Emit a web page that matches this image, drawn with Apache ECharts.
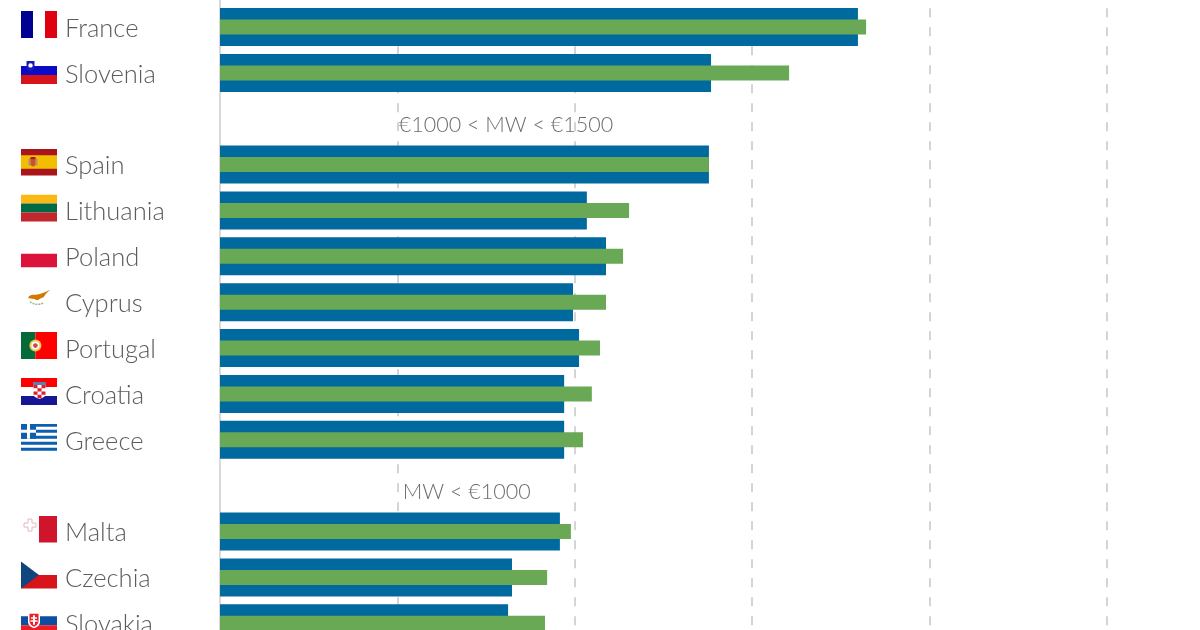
<!DOCTYPE html>
<html>
<head>
<meta charset="utf-8">
<style>html,body{margin:0;padding:0;background:#fff}#chart{width:1200px;height:630px}</style>
<script src="https://cdn.jsdelivr.net/npm/echarts@6/dist/echarts.min.js"></script>
</head>
<body>
<div id="chart"></div>
<script>
// Monthly minimum wage by country, grouped by wage band. Blank rows separate the bands.
const countries = ['', 'France', 'Slovenia', '', 'Spain', 'Lithuania', 'Poland', 'Cyprus', 'Portugal', 'Croatia', 'Greece', '', 'Malta', 'Czechia', 'Slovakia'];
const outerValues = [null, 1798, 1384, null, 1378, 1034, 1088, 995, 1012, 970, 970, null, 958, 823, 812];
const innerValues = [null, 1821, 1604, null, 1378, 1153, 1136, 1088, 1071, 1048, 1023, null, 989, 922, 916];
const bandNames = ['€1000 < MW < €1500', 'MW < €1000'];
const bandRows = [3, 11];
const bandStart = [504, 515];
const axisTicks = [0, 500, 1000, 1500, 2000, 2500];

// Flag artwork; each flag sits in the top-left of a slightly larger transparent canvas.
const flagArt = {
  France: '<rect width="12" height="27" fill="#000091"/><rect x="24" width="12" height="27" fill="#e1000f"/>',
  Slovenia: '<rect y="9" width="36" height="9" fill="#0a0ac8"/><rect y="18" width="36" height="9" fill="#d7141a"/><path d="M5.500 4h8v6c0 3-2 3.500-4 4.500-2-1-4-1.500-4-4.500z" fill="#1a1ab4"/><circle cx="9.500" cy="8.500" r="2.200" fill="#fff"/>',
  Spain: '<rect width="36" height="27" fill="#aa151b"/><rect y="6.750" width="36" height="13.500" fill="#f1bf00"/><rect x="7.500" y="10" width="2" height="7" fill="#b98a8a"/><rect x="14.500" y="10" width="2" height="7" fill="#b98a8a"/><path d="M9.500 11h5v4.500c0 1.500-1.300 2.500-2.500 2.500s-2.500-1-2.500-2.500z" fill="#c8522a"/><rect x="9.500" y="8.500" width="5" height="2.500" fill="#ad1519"/>',
  Lithuania: '<rect width="36" height="9" fill="#fdb913"/><rect y="9" width="36" height="9" fill="#006a44"/><rect y="18" width="36" height="9" fill="#c1272d"/>',
  Poland: '<rect y="13.500" width="36" height="13.500" fill="#dc143c"/>',
  Cyprus: '<path d="M7 11.500c1-2.500 4-3 7-3 3-.5 5-.5 7-1.500 3-1 5-2 8-3.500-2 2-4 3.500-5 5.500-1 2-3 2.500-5 3.500-1.500 1.500-3 2-5 .5-2-.5-6-.5-7-1.500z" fill="#d57800"/><path d="M9 15.500c3 3 9 3.500 14 1" fill="none" stroke="#9db58f" stroke-width="1.400" stroke-dasharray="2 1"/>',
  Portugal: '<rect width="14.400" height="27" fill="#046a38"/><rect x="14.400" width="21.600" height="27" fill="#f00"/><circle cx="14.400" cy="13.500" r="6" fill="#f2c94c"/><circle cx="14.400" cy="13.500" r="4" fill="#fff"/><circle cx="14.400" cy="13.500" r="2.400" fill="#c9485a"/>',
  Croatia: '<rect width="36" height="9" fill="#f00"/><rect y="18" width="36" height="9" fill="#171796"/><path d="M12 4h13v3H12z" fill="#5a7fb5"/><path d="M12.500 7h12v9c0 3-3.500 4-6 5-2.500-1-6-2-6-5z" fill="#fff"/><path d="M12.500 7h4v3.300h-4zM20.500 7h4v3.300h-4zM16.500 10.300h4v3.300h-4zM12.500 13.600h4v3.300h-4zM20.500 13.600h4v3.300h-4zM16.500 16.900h4v3.300h-4z" fill="#e21e2d"/>',
  Greece: '<g fill="#0d5eaf"><rect width="36" height="3"/><rect y="6" width="36" height="3"/><rect y="12" width="36" height="3"/><rect y="18" width="36" height="3"/><rect y="24" width="36" height="3"/><rect width="15" height="15"/></g><rect x="6" width="3" height="15" fill="#fff"/><rect y="6" width="15" height="3" fill="#fff"/>',
  Malta: '<rect x="18" width="18" height="27" fill="#cf142b"/><path d="M7 3.500h4v4h4v4h-4v4H7v-4H3v-4h4z" fill="#fff" stroke="#e2b9be" stroke-width="1"/>',
  Czechia: '<rect y="13.500" width="36" height="13.500" fill="#d7141a"/><path d="M0 0l18 13.500L0 27z" fill="#11457e"/>',
  Slovakia: '<rect y="9" width="36" height="9" fill="#0b4ea2"/><rect y="18" width="36" height="9" fill="#ee1c25"/><path d="M7 5h12v9c0 4-3 6-6 7-3-1-6-3-6-7z" fill="#fff"/><path d="M8.500 6.500h9v7c0 3-2 5-4.500 6-2.500-1-4.500-3-4.500-6z" fill="#ee1c25"/><path d="M12 8h2v2h2v1.500h-2v1.500h2.500v1.500H14v3h-2v-3H9.500V13H12v-1.500h-2V10h2z" fill="#fff"/>'
};

const flagUri = name => 'data:image/svg+xml;charset=utf-8,' + encodeURIComponent(
  '<svg xmlns="http://www.w3.org/2000/svg" width="44" height="32" viewBox="0 0 44 32">' + flagArt[name] + '</svg>');

const labelRich = {
  name: { fontFamily: 'Lato', fontWeight: 300, fontSize: 25.5, color: '#5c5c5c', padding: [3, 0, 0, 0] }
};
countries.filter(Boolean).forEach(c => {
  labelRich['f' + c] = { width: 44, height: 32, backgroundColor: { image: flagUri(c) } };
});

const sharedCategory = {
  type: 'category',
  inverse: true,
  data: countries,
  axisTick: { show: false }
};

const chart = echarts.init(document.getElementById('chart'), null, { renderer: 'canvas' });
chart.setOption({
  animation: false,
  backgroundColor: '#ffffff',
  grid: { left: 220, width: 887, top: -41.8, height: 688.05, containLabel: false, outerBoundsMode: 'none' },
  xAxis: {
    type: 'value',
    min: axisTicks[0],
    max: axisTicks[axisTicks.length - 1],
    interval: axisTicks[1] - axisTicks[0],
    axisLabel: { show: false },
    axisLine: { show: false },
    axisTick: { show: false },
    splitLine: {
      show: true,
      showMinLine: false,
      lineStyle: { color: '#d4d4d4', width: 2, type: [9, 10], dashOffset: 7 }
    }
  },
  yAxis: [
    Object.assign({}, sharedCategory, {
      axisLine: { show: true, lineStyle: { color: '#cccccc', width: 1.5 } },
      axisLabel: {
        interval: 0,
        align: 'left',
        margin: 199,
        rich: labelRich,
        formatter: v => v ? `{f${v}|}{name|${v}}` : ''
      }
    }),
    Object.assign({}, sharedCategory, {
      position: 'left',
      axisLine: { show: false },
      axisLabel: { show: false }
    })
  ],
  series: [
    {
      name: 'Outer',
      type: 'bar',
      yAxisIndex: 0,
      data: outerValues,
      barWidth: 38,
      itemStyle: { color: '#00699d' },
      z: 2
    },
    {
      name: 'Inner',
      type: 'bar',
      yAxisIndex: 1,
      data: innerValues,
      barWidth: 15,
      itemStyle: { color: '#69a854' },
      z: 3
    },
    {
      name: 'Bands',
      type: 'scatter',
      yAxisIndex: 0,
      symbolSize: 0,
      silent: true,
      z: 4,
      data: bandNames.map((n, i) => ({ name: n, value: [bandStart[i], bandRows[i]] })),
      label: {
        show: true,
        position: 'right',
        distance: 0,
        offset: [0, 6.5],
        formatter: p => p.name,
        fontFamily: 'Lato',
        fontWeight: 300,
        fontSize: 21.5,
        color: '#484848'
      }
    }
  ]
});
</script>
</body>
</html>
